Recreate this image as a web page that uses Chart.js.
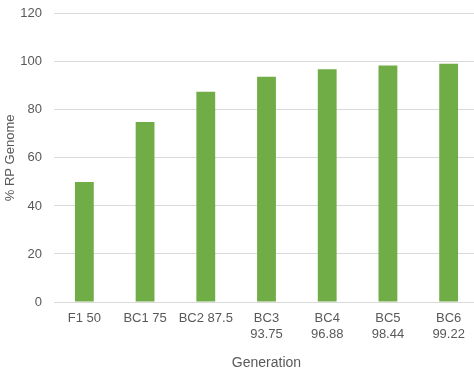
<!DOCTYPE html>
<html>
<head>
<meta charset="utf-8">
<script src="https://cdn.jsdelivr.net/npm/chart.js@4/dist/chart.umd.min.js"></script>
<style>
  html, body { margin: 0; padding: 0; background: #fff; overflow: hidden; }
  #wrap { width: 479px; height: 380px; margin-top: -6px; }
</style>
</head>
<body>
<div id="wrap"><canvas id="chart" width="479" height="380"></canvas></div>
<script>
// data
const generations = [['F1 50'], ['BC1 75'], ['BC2 87.5'], ['BC3', '93.75'], ['BC4', '96.88'], ['BC5', '98.44'], ['BC6', '99.22']];
const rpGenome = [50, 75, 87.5, 93.75, 96.88, 98.44, 99.22];
const yTicks = [0, 20, 40, 60, 80, 100, 120];

const font = { family: 'Liberation Sans, Arial, sans-serif', size: 13 };
const grey = '#595959';

new Chart(document.getElementById('chart'), {
  type: 'bar',
  data: {
    labels: generations,
    datasets: [{
      data: rpGenome,
      backgroundColor: '#70AD47',
      barPercentage: 0.31,
      categoryPercentage: 1,
    }],
  },
  options: {
    responsive: false,
    animation: false,
    layout: { padding: { top: 7, left: 0, right: 0, bottom: 0 } },
    plugins: { legend: { display: false }, tooltip: { enabled: false } },
    scales: {
      x: {
        afterFit: (axis) => { axis.height = 72; },
        grid: { display: false, drawTicks: false },
        border: { color: '#d9d9d9' },
        ticks: { color: grey, font, padding: 9, maxRotation: 0, autoSkip: false },
        title: { display: true, text: 'Generation', color: grey, font: { ...font, size: 14 }, padding: { top: 0, bottom: 2 } },
      },
      y: {
        min: 0,
        max: 120,
        afterFit: (axis) => { axis.width = 54; },
        afterBuildTicks: (axis) => { axis.ticks = yTicks.map((v) => ({ value: v })); },
        grid: { color: '#d9d9d9', drawTicks: false },
        border: { display: false },
        ticks: { color: grey, font, padding: 12 },
        title: { display: true, text: '% RP Genome', color: grey, font, padding: { top: 3, bottom: 4 } },
      },
    },
  },
});
</script>
</body>
</html>
